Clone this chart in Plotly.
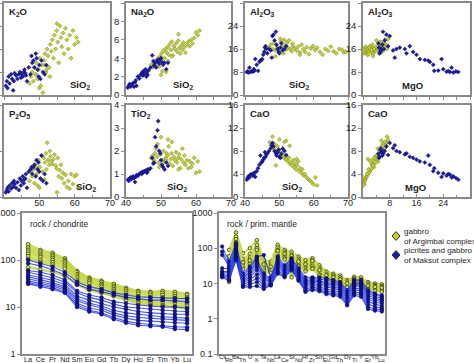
import plotly.graph_objects as go

# ---------------- major elements (wt.%) ----------------
# Maksut complex: picrites and gabbro
mk_sio2 = [40.5, 40.8, 41.0, 41.3, 41.6, 42.0, 42.3, 42.6, 43.0, 42.8, 43.4, 43.8, 44.2, 44.5, 44.8, 45.0, 45.3, 45.6, 46.0, 46.2,
           45.8, 47.0, 47.5, 48.0, 48.3, 48.6, 49.0, 49.2, 49.5, 49.8, 50.0, 50.3, 50.6, 51.0, 51.5, 52.0, 47.8, 46.5]
mk_mgo = [28.5, 27.8, 27.0, 26.5, 26.0, 25.5, 25.0, 24.0, 23.5, 22.5, 21.0, 21.3, 20.0, 19.5, 18.5, 17.0, 16.0, 15.0, 14.0, 12.5,
          11.0, 10.0, 9.0, 8.0, 7.0, 6.5, 6.0, 5.8, 5.5, 5.2, 5.0, 4.8, 4.6, 5.3, 6.2, 7.5, 9.5, 13.0]
mk_k2o = [0.4, 0.6, 0.3, 0.8, 0.5, 0.9, 0.7, 0.2, 0.95, 0.6, 0.85, 0.7, 0.9, 1.0, 0.75, 0.9, 0.8, 1.0, 0.95, 0.85,
          1.1, 1.2, 0.9, 1.4, 1.5, 1.2, 1.8, 1.6, 1.1, 0.8, 1.3, 0.7, 1.5, 1.0, 0.9, 1.3, 1.7, 0.6]
mk_na2o = [0.8, 1.0, 1.2, 0.9, 1.1, 1.3, 0.9, 1.4, 1.0, 1.6, 2.0, 1.8, 2.2, 2.4, 2.1, 2.6, 2.3, 2.8, 2.5, 2.2,
           2.0, 3.0, 4.3, 3.2, 3.5, 3.0, 3.8, 3.6, 3.4, 3.9, 4.0, 3.6, 3.3, 3.5, 2.8, 3.5, 3.7, 2.7]
mk_al2o3 = [8.0, 8.2, 7.8, 9.5, 8.0, 8.3, 8.1, 9.0, 12.5, 8.5, 10.5, 8.4, 11.5, 12.0, 12.2, 12.5, 14.0, 15.0, 17.0, 16.0,
            16.5, 16.0, 15.5, 20.5, 21.0, 19.0, 22.0, 17.5, 16.0, 15.0, 14.5, 16.5, 18.0, 15.5, 16.0, 17.0, 13.0, 14.5]
mk_p2o5 = [0.10, 0.15, 0.20, 0.12, 0.25, 0.18, 0.30, 0.22, 0.28, 0.35, 0.20, 0.32, 0.15, 0.40, 0.25, 0.35, 0.45, 0.30, 0.40, 0.50,
           0.38, 0.55, 0.60, 0.50, 0.65, 0.70, 0.45, 0.80, 0.60, 0.75, 0.55, 0.40, 0.90, 0.35, 0.50, 0.30, 0.65, 0.20]
mk_tio2 = [0.75, 0.70, 0.80, 0.85, 0.78, 0.90, 0.82, 0.65, 0.95, 0.88, 0.92, 1.0, 1.05, 1.0, 1.10, 1.08, 1.12, 1.15, 1.05, 1.20,
           1.10, 1.25, 1.70, 1.50, 2.60, 2.20, 2.90, 3.30, 2.00, 1.90, 1.60, 1.40, 1.30, 1.20, 1.50, 1.35, 1.45, 1.18]
mk_cao = [3.0, 3.3, 3.6, 3.4, 3.9, 4.0, 3.7, 4.1, 3.5, 4.2, 4.5, 5.0, 5.6, 7.2, 6.0, 6.2, 6.5, 6.8, 7.0, 7.4,
          7.8, 8.0, 8.5, 9.4, 8.8, 8.0, 7.6, 7.2, 7.8, 8.2, 7.0, 6.8, 7.5, 8.4, 8.0, 7.3, 9.0, 7.6]

# Argimbai complex: gabbro
ag_sio2 = [47.2, 47.6, 48.0, 48.3, 48.6, 48.9, 49.2, 49.5, 49.8, 50.1, 50.4, 50.7, 51.0, 51.3, 51.6, 51.9, 52.2, 52.5, 52.8, 53.1,
           53.4, 53.7, 54.0, 54.3, 54.6, 54.9, 55.2, 55.5, 55.8, 56.1, 56.4, 56.7, 57.0, 57.4, 57.8, 58.2, 58.6, 59.0, 59.5, 60.0,
           60.5, 61.0, 50.0, 49.0, 52.0, 53.0, 55.0, 51.5]
ag_sio2_al = [47.0, 47.5, 48.0, 48.4, 48.8, 49.2, 49.6, 50.0, 50.4, 50.8, 51.2, 51.6, 52.0, 52.4, 52.8, 53.2, 53.6, 54.0, 54.5, 55.0,
              55.5, 56.0, 56.5, 57.0, 57.5, 58.0, 58.6, 59.2, 59.8, 60.4, 61.0, 61.8, 62.6, 63.4, 64.2, 65.0, 65.8, 66.6, 67.4, 68.2,
              68.8, 69.3, 50.3, 48.9, 52.2, 53.8, 56.0, 51.4]
ag_mgo = [7.0, 6.8, 7.2, 6.5, 6.0, 5.8, 6.2, 5.5, 5.2, 5.0, 4.8, 4.6, 4.4, 4.2, 4.0, 3.8, 3.6, 4.5, 3.4, 3.2,
          3.9, 3.0, 2.8, 3.3, 2.6, 2.4, 2.9, 2.2, 2.0, 2.5, 1.8, 1.6, 1.4, 1.2, 1.0, 0.8, 0.6, 0.5, 0.4, 0.3,
          0.2, 0.1, 7.5, 3.0, 5.5, 6.0, 1.5, 6.6]
ag_k2o = [0.5, 0.8, 1.0, 0.6, 1.2, 0.9, 1.4, 0.7, 1.1, 1.6, 0.4, 1.3, 0.1, 1.5, 1.8, 1.0, 2.0, 1.7, 1.2, 2.2,
          1.9, 2.4, 1.6, 2.6, 2.0, 2.8, 2.3, 1.4, 3.0, 2.5, 2.1, 2.7, 1.8, 2.9, 2.4, 2.0, 2.6, 1.6, 2.8, 2.2,
          2.5, 2.3, 0.3, 0.9, 1.1, 0.8, 3.1, 1.3]
ag_na2o = [3.3, 3.0, 3.4, 3.6, 3.2, 3.8, 4.0, 3.1, 4.2, 4.5, 2.6, 4.8, 4.0, 5.0, 4.6, 5.2, 4.4, 5.5, 4.9, 5.8,
           4.3, 5.3, 5.0, 5.6, 4.7, 5.9, 5.1, 4.5, 5.4, 4.9, 5.7, 5.2, 4.6, 5.5, 5.8, 5.3, 6.0, 5.6, 6.2, 6.8,
           6.5, 7.0, 2.2, 3.9, 3.7, 4.2, 6.6, 2.5]
ag_al2o3 = [16.5, 17.5, 16.0, 18.0, 15.5, 17.0, 16.0, 15.0, 18.5, 16.8, 14.5, 17.2, 15.8, 16.5, 19.0, 16.0, 15.2, 17.0, 16.2, 15.5,
            16.8, 14.8, 17.5, 16.0, 15.0, 16.6, 14.2, 16.2, 17.0, 15.6, 16.4, 15.0, 14.0, 16.0, 15.4, 16.8, 15.2, 14.5, 16.0, 15.8,
            14.8, 15.0, 19.5, 13.5, 18.2, 17.8, 14.0, 19.2]
ag_p2o5 = [0.35, 0.55, 0.45, 0.60, 0.30, 0.70, 0.50, 0.25, 0.80, 0.65, 0.40, 0.90, 0.55, 0.85, 0.75, 0.95, 1.18, 0.80, 0.70, 0.88,
           0.78, 0.72, 0.82, 0.92, 0.68, 0.62, 0.85, 0.45, 0.58, 0.70, 0.40, 0.52, 0.30, 0.48, 0.22, 0.35, 0.18, 0.50, 0.28, 0.45,
           0.48, 0.20, 0.20, 0.65, 0.60, 1.00, 0.10, 0.38]
ag_tio2 = [1.7, 1.8, 1.6, 1.9, 2.1, 1.75, 1.5, 1.3, 1.85, 1.4, 1.6, 2.0, 1.55, 1.7, 1.9, 1.8, 2.2, 1.45, 1.65, 2.4,
           1.35, 1.75, 1.6, 1.95, 1.5, 1.7, 1.85, 1.25, 1.65, 2.1, 1.5, 1.8, 1.4, 1.6, 1.25, 1.55, 1.3, 1.45, 1.7, 1.05,
           1.55, 1.1, 2.6, 2.3, 2.5, 1.9, 1.2, 1.6]
ag_cao = [9.5, 9.0, 10.5, 8.5, 9.2, 8.0, 7.5, 8.8, 8.2, 7.8, 7.0, 7.6, 8.4, 6.8, 7.2, 6.5, 7.0, 6.2, 6.8, 5.8,
          6.0, 5.5, 6.4, 5.2, 5.8, 4.8, 5.5, 6.2, 4.5, 5.0, 4.2, 4.8, 3.8, 4.0, 3.5, 3.2, 3.0, 2.8, 2.5, 2.2,
          3.4, 2.0, 10.0, 5.5, 9.8, 8.9, 6.6, 9.6]

# ---------------- REE, chondrite normalised ----------------
ree_elements = ["La", "Ce", "Pr", "Nd", "Sm", "Eu", "Gd", "Tb", "Dy", "Ho", "Er", "Tm", "Yb", "Lu"]
ree_argimbai = [
    [215, 163, 142, 108, 58, 42, 36, 31, 25.5, 22, 21, 22, 21, 19],
    [185, 150, 130, 100, 55, 40, 34, 28, 24, 21, 20, 20, 19, 18],
    [165, 135, 120, 95, 50, 38, 31, 26, 22, 19, 18, 18, 17, 16],
    [150, 125, 110, 88, 46, 35, 29, 24, 20, 17, 16, 16, 15, 15],
    [135, 115, 100, 80, 42, 32, 27, 22, 18, 15, 14, 14, 13.5, 12.7],
    [120, 100, 90, 72, 38, 28, 24, 20, 16, 14, 13, 12.5, 12, 11.5],
    [105, 90, 80, 65, 35, 26, 22, 18, 15, 13, 12, 11, 10.5, 10.5],
    [70, 62, 56, 46, 30, 23, 20, 17, 14, 12, 11, 10.5, 10, 9.2],
]
ree_maksut = [
    [100, 85, 72, 55, 34, 27, 24, 20, 18, 16.5, 16, 15.5, 15.5, 15],
    [85, 75, 62, 48, 30, 24, 21, 18, 16, 15, 14, 14, 13.5, 13],
    [60, 55, 48, 38, 22, 18, 16, 13, 12, 11, 10.5, 10, 10, 9.5],
    [55, 48, 42, 34, 20, 16, 14, 11.5, 10, 9.5, 9, 8.5, 8.2, 8],
    [48, 42, 37, 30, 17, 14, 12, 10, 9, 8, 7.5, 7.2, 7, 7],
    [44, 38, 33, 27, 15, 12, 10.5, 8.5, 7.5, 7, 6.5, 6.2, 6, 5.8],
    [40, 35, 30, 25, 13.5, 11, 9.5, 7.5, 6.5, 6, 5.8, 5.6, 5.4, 5.2],
    [36, 32, 28, 23, 12, 9.5, 8.5, 6.8, 5.8, 5.2, 5, 4.8, 4.6, 4.5],
    [33, 29, 26, 21, 11, 8.5, 7.5, 6, 5, 4.5, 4.2, 4, 3.8, 3.7],
    [31, 27, 24, 20, 10, 8, 7, 5.5, 4.6, 4.1, 3.9, 3.8, 3.4, 3.3],
]

# ---------------- spider diagram, primitive mantle normalised ----------------
spider_elements = ["Cs", "Rb", "Ba", "Th", "U", "K", "Ta", "Nb", "La", "Ce", "Sr", "Nd",
                   "Hf", "Zr", "Sm", "Eu", "Gd", "Tb", "Dy", "Ti", "Y", "Er", "Yb", "Lu"]
spider_argimbai = [
    [None, 90, 280, 72, 100, 170, 46, 42, 125, 90, 80, 58, 46, 52, 33, 22, 19, 17, 12.5, 15.5, 15, 11, 10, 9.5],
    [None, 60, 215, 50, 70, 125, 38, 36, 105, 80, 65, 50, 38, 46, 28, 19, 17, 15, 11.5, 14, 13, 10, 9, 8.5],
    [None, 45, 180, 42, 55, 100, 33, 32, 90, 72, 55, 45, 33, 40, 25, 17, 15.5, 13.5, 10.5, 13, 12, 9, 8.5, 8],
    [None, 38, 150, 36, 48, 80, 30, 28, 80, 65, 45, 40, 30, 36, 22, 16, 14, 12.5, 9.5, 12, 11, 8.5, 7.5, 7.5],
    [None, 30, 130, 32, 42, 65, 26, 25, 70, 58, 35, 36, 27, 32, 20, 15, 13, 11.5, 9, 11, 10, 8, 7, 6.8],
    [None, 25, 115, 28, 36, 55, 23, 22, 60, 52, 19, 32, 24, 28, 18, 13.5, 12, 10.5, 8.3, 10, 9.2, 7.2, 6.5, 6.2],
    [None, 18, 112, 25, 30, 46, 20, 20, 55, 48, 15, 30, 22, 26, 17, 13, 11, 10, 7.8, 9.5, 8.8, 6.8, 6.2, 5.8],
    [None, 11, 125, 40, 45, 90, 35, 30, 85, 70, 60, 42, 35, 44, 24, 17, 15, 13, 10, 12.5, 11.5, 8.8, 8, 7.6],
]
spider_maksut = [
    [112, 42, 140, 19, 30, 58, 64, 15, 58, 33, 52, 27, 15, 15, 15, 14, 12.5, 11, 6.4, 12.5, 12.5, 6.4, 5.2, 4.6],
    [80, 35, 120, 17, 26, 50, 19, 14, 50, 30, 48, 25, 13, 14, 13.5, 12.5, 11, 10, 5.8, 11, 11, 5.8, 4.8, 4.2],
    [64, 30, 100, 15, 22, 42, 17, 13, 44, 27, 44, 23, 11.5, 13, 12, 11, 10, 9, 5.2, 10, 10, 5.2, 4.3, 3.8],
    [27, 26, 90, 14, 20, 36, 15, 12, 40, 25, 40, 21, 10.5, 12, 11, 10, 9, 8, 4.8, 9, 9, 4.6, 3.8, 3.4],
    [22, 22, 80, 12.5, 17, 30, 13, 11.5, 36, 23, 36, 19, 9.5, 11, 10, 9, 8, 7.2, 4.3, 8.2, 8, 4.1, 3.4, 3.1],
    [20, 20, 70, 11.5, 15, 24, 11, 11, 32, 21, 33, 17, 8.5, 10, 9, 8, 7, 6.5, 3.8, 7.4, 7, 3.6, 3, 2.7],
    [18, 17, 62, 10.5, 13, 18, 9.5, 10, 28, 19, 30, 15.5, 7.5, 9, 8, 7, 6.2, 5.8, 3.3, 6.6, 6.2, 3.1, 2.6, 2.3],
    [17, 15, 55, 9.5, 11, 14, 8.5, 9.5, 24, 17, 28, 14, 6.8, 8, 7.2, 6.2, 5.5, 5.2, 2.9, 5.8, 5.4, 2.6, 2.2, 2.0],
    [16, 13, 50, 8.5, 9.5, 11, 7.5, 9, 21, 16, 26, 13, 6.2, 7.2, 6.5, 5.5, 5, 4.6, 2.6, 5.2, 4.8, 2.2, 1.9, 1.8],
    [15, 12, 46, 8, 8, 8.5, 7, 8.8, 19, 15, 24, 12, 5.8, 6.5, 6, 5, 4.6, 4.2, 2.4, 4.6, 4.2, 1.9, 1.7, 1.6],
]

legend_names = ["gabbro<br>of Argimbai complex", "picrites and gabbro<br>of Maksut complex"]

# ---------------- styling / layout ----------------
W, H = 474, 363
FONT = "Liberation Sans, Arial, sans-serif"
FRAME = "#8a8a8a"
TXT = "#1e1e1e"
Y_FILL, Y_EDGE = "#c3cf3a", "#74801e"
B_FILL, B_EDGE = "#1c1ca8", "#0a0a55"


def fx(p):
    return p / W


def fy(p):
    return 1 - p / H


cols = [(4, 110), (126, 231), (245, 348), (363, 470)]
rows = [(3, 95), (105, 197)]

panels = [
    dict(xg=ag_sio2, yg=ag_k2o, xm=mk_sio2, ym=mk_k2o, t="K<sub>2</sub>O", xl="SiO<sub>2</sub>", xr=[40, 70], yr=[0, 4], ydt=1, mg=False, r=0, c=0, lx=0.72),
    dict(xg=ag_sio2, yg=ag_na2o, xm=mk_sio2, ym=mk_na2o, t="Na<sub>2</sub>O", xl="SiO<sub>2</sub>", xr=[40, 70], yr=[0, 10], ydt=2, mg=False, r=0, c=1, lx=0.54),
    dict(xg=ag_sio2_al, yg=ag_al2o3, xm=mk_sio2, ym=mk_al2o3, t="Al<sub>2</sub>O<sub>3</sub>", xl="SiO<sub>2</sub>", xr=[40, 70], yr=[0, 32], ydt=8, mg=False, r=0, c=2, lx=0.52),
    dict(xg=ag_mgo, yg=ag_al2o3, xm=mk_mgo, ym=mk_al2o3, t="Al<sub>2</sub>O<sub>3</sub>", xl="MgO", xr=[0, 32], yr=[0, 32], ydt=8, mg=True, r=0, c=3, lx=0.46),
    dict(xg=ag_sio2, yg=ag_p2o5, xm=mk_sio2, ym=mk_p2o5, t="P<sub>2</sub>O<sub>5</sub>", xl="SiO<sub>2</sub>", xr=[40, 70], yr=[0, 2], ydt=1, mg=False, r=1, c=0, lx=0.77),
    dict(xg=ag_sio2, yg=ag_tio2, xm=mk_sio2, ym=mk_tio2, t="TiO<sub>2</sub>", xl="SiO<sub>2</sub>", xr=[40, 70], yr=[0, 4], ydt=1, mg=False, r=1, c=1, lx=0.49),
    dict(xg=ag_sio2, yg=ag_cao, xm=mk_sio2, ym=mk_cao, t="CaO", xl="SiO<sub>2</sub>", xr=[40, 70], yr=[0, 16], ydt=4, mg=False, r=1, c=2, lx=0.46),
    dict(xg=ag_mgo, yg=ag_cao, xm=mk_mgo, ym=mk_cao, t="CaO", xl="MgO", xr=[0, 32], yr=[0, 16], ydt=4, mg=True, r=1, c=3, lx=0.49),
]

fig = go.Figure()
layout = {}
ann = []


def axis_base(**kw):
    d = dict(showline=True, linecolor=FRAME, linewidth=1.5, mirror=True, showgrid=False, zeroline=False,
             automargin=False, ticks="outside", ticklen=3, tickcolor=FRAME, tickwidth=1, tickangle=0,
             tickfont=dict(size=9.5, color=TXT, family=FONT))
    d.update(kw)
    return d


for i, p in enumerate(panels):
    n = i + 1
    sfx = "" if n == 1 else str(n)
    x0, x1 = cols[p["c"]]
    y0, y1 = rows[p["r"]]
    if p["r"] == 0:
        xa = axis_base(domain=[fx(x0), fx(x1)], range=p["xr"], anchor="y" + sfx,
                       showticklabels=False, dtick=4 if p["mg"] else 5, tick0=0)
    else:
        tv = [8, 16, 24, 32] if p["mg"] else [40, 50, 60, 70]
        xa = axis_base(domain=[fx(x0), fx(x1)], range=p["xr"], anchor="y" + sfx, tickvals=tv,
                       ticks="inside", ticklen=3, ticklabelstandoff=-4,
                       tickfont=dict(size=9, color=TXT, family=FONT),
                       minor=dict(dtick=4 if p["mg"] else 5, tick0=0, ticks="inside", ticklen=2, tickcolor=FRAME))
    nt = int(round(p["yr"][1] / p["ydt"]))
    ya = axis_base(domain=[fy(y1), fy(y0)], range=p["yr"], anchor="x" + sfx,
                   tickvals=[k * p["ydt"] for k in range(nt + 1)])
    layout["xaxis" + sfx] = xa
    layout["yaxis" + sfx] = ya
    fig.add_trace(go.Scatter(x=p["xg"], y=p["yg"], mode="markers", xaxis="x" + sfx, yaxis="y" + sfx,
                             marker=dict(symbol="diamond", size=3.2, color=Y_FILL, line=dict(color=Y_EDGE, width=0.5)),
                             showlegend=False, hoverinfo="skip"))
    fig.add_trace(go.Scatter(x=p["xm"], y=p["ym"], mode="markers", xaxis="x" + sfx, yaxis="y" + sfx,
                             marker=dict(symbol="diamond", size=3.2, color=B_FILL, line=dict(color=B_EDGE, width=0.4)),
                             showlegend=False, hoverinfo="skip"))
    ann.append(dict(xref="x%s domain" % sfx, yref="y%s domain" % sfx, x=0.03, y=0.985, xanchor="left", yanchor="top",
                    text="<b>%s</b>" % p["t"], showarrow=False, font=dict(size=9.5, color=TXT, family=FONT)))
    ann.append(dict(xref="x%s domain" % sfx, yref="y%s domain" % sfx, x=p["lx"], y=0.02, xanchor="center", yanchor="bottom",
                    text="<b>%s</b>" % p["xl"], showarrow=False, font=dict(size=9.5, color=TXT, family=FONT)))

# ---- REE panel (axis 9) ----
layout["xaxis9"] = axis_base(domain=[fx(22), fx(192)], range=[-0.5, 13.4], anchor="y9", ticks="",
                             tickvals=list(range(len(ree_elements))), ticktext=ree_elements, ticklabelstandoff=-3,
                             tickfont=dict(size=7.3, color=TXT, family=FONT))
layout["yaxis9"] = axis_base(domain=[fy(354), fy(213)], type="log", range=[0, 3], anchor="x9",
                             tickvals=[1, 10, 100, 1000], ticktext=["1", "10", "100", "1000"],
                             tickfont=dict(size=9, color=TXT, family=FONT))
# ---- spider panel (axis 10) ----
layout["xaxis10"] = axis_base(domain=[fx(219), fx(385)], range=[-0.45, 23.45], anchor="y10", ticks="",
                              showticklabels=False)
layout["yaxis10"] = axis_base(domain=[fy(354), fy(213)], type="log", range=[-1, 3], anchor="x10",
                              tickvals=[0.1, 1, 10, 100, 1000], ticktext=["0.1", "1", "10", "100", "1000"],
                              tickfont=dict(size=9, color=TXT, family=FONT))

ree_x = list(range(len(ree_elements)))
spi_x = list(range(len(spider_elements)))
YL_LINE = "rgba(196,214,70,0.85)"
BL_LINE = "rgba(40,60,230,0.85)"

for vals in ree_argimbai:
    fig.add_trace(go.Scatter(x=ree_x, y=vals, xaxis="x9", yaxis="y9", mode="lines+markers",
                             line=dict(color=YL_LINE, width=2.4),
                             marker=dict(symbol="circle", size=3.8, color="#d5e25a", line=dict(color="#3c4210", width=0.8)),
                             showlegend=False, hoverinfo="skip"))
for vals in ree_maksut:
    fig.add_trace(go.Scatter(x=ree_x, y=vals, xaxis="x9", yaxis="y9", mode="lines+markers",
                             line=dict(color=BL_LINE, width=1.1),
                             marker=dict(symbol="circle", size=3.8, color="#12129a", line=dict(color="#08084a", width=0.5)),
                             showlegend=False, hoverinfo="skip"))
for vals in spider_argimbai:
    fig.add_trace(go.Scatter(x=spi_x, y=vals, xaxis="x10", yaxis="y10", mode="lines+markers",
                             line=dict(color=YL_LINE, width=2.2),
                             marker=dict(symbol="circle", size=3.6, color="#d5e25a", line=dict(color="#3c4210", width=0.8)),
                             showlegend=False, hoverinfo="skip", connectgaps=False))
for vals in spider_maksut:
    fig.add_trace(go.Scatter(x=spi_x, y=vals, xaxis="x10", yaxis="y10", mode="lines+markers",
                             line=dict(color=BL_LINE, width=1.1),
                             marker=dict(symbol="circle", size=3.6, color="#12129a", line=dict(color="#08084a", width=0.5)),
                             showlegend=False, hoverinfo="skip"))

ann.append(dict(xref="x9 domain", yref="y9 domain", x=0.035, y=0.92, xanchor="left", yanchor="middle",
                text="rock / chondrite", showarrow=False, font=dict(size=8.5, color=TXT, family=FONT)))
ann.append(dict(xref="x10 domain", yref="y10 domain", x=0.035, y=0.92, xanchor="left", yanchor="middle",
                text="rock / prim. mantle", showarrow=False, font=dict(size=8.5, color=TXT, family=FONT)))

# staggered spider element labels
for i, el in enumerate(spider_elements):
    ann.append(dict(xref="x10", yref="paper", x=i, y=fy(356.6 if i % 2 == 0 else 359.6), xanchor="center",
                    yanchor="middle", text=el, showarrow=False, font=dict(size=6, color=TXT, family=FONT)))

# legend (drawn as decorations)
shapes = []
leg_items = [(236, Y_FILL), (255, B_FILL)]
for (cy, col), name in zip(leg_items, legend_names):
    cx, dx, dy = 396, 4.0, 4.4
    path = "M %f,%f L %f,%f L %f,%f L %f,%f Z" % (fx(cx - dx), fy(cy), fx(cx), fy(cy - dy), fx(cx + dx), fy(cy),
                                                 fx(cx), fy(cy + dy))
    shapes.append(dict(type="path", xref="paper", yref="paper", path=path, fillcolor=col,
                       line=dict(color="#2a2a2a", width=1)))
    ann.append(dict(xref="paper", yref="paper", x=fx(401.5), y=fy(cy), xanchor="left", yanchor="middle", align="left",
                    text=name, showarrow=False, font=dict(size=8, color=TXT, family=FONT)))

fig.update_layout(**layout)
fig.update_layout(template="none", width=W, height=H, margin=dict(l=0, r=0, t=0, b=0, pad=0), paper_bgcolor="white",
                  plot_bgcolor="white", annotations=ann, shapes=shapes, showlegend=False,
                  font=dict(family=FONT, color=TXT))
fig.write_html("out.html", config={"displayModeBar": False},
               post_script="document.documentElement.style.margin='0';document.body.style.margin='0';"
                           "document.body.style.padding='0';document.body.style.overflow='hidden';")
